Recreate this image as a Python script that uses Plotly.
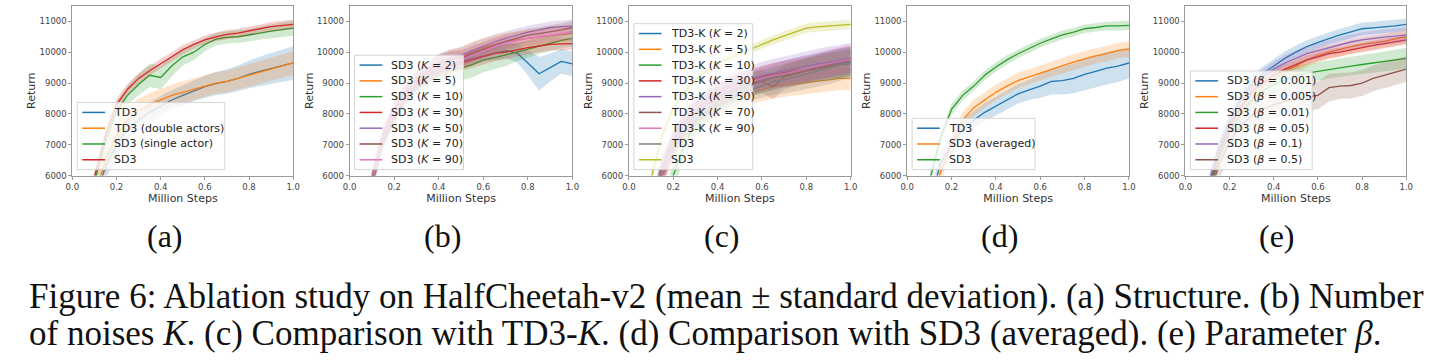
import plotly.graph_objects as go

# ---------------- data ----------------
steps = [0.05, 0.10, 0.15, 0.20, 0.25, 0.30, 0.35, 0.40, 0.45, 0.50,
         0.55, 0.60, 0.65, 0.70, 0.75, 0.80, 0.85, 0.90, 0.95, 1.00]

# (a) structure
a_names = ["TD3", "TD3 (double actors)", "SD3 (single actor)", "SD3"]
a_td3 = [2600, 5100, 6300, 7000, 7500, 7800, 8050, 8250, 8450, 8600, 8750, 8880, 8980, 9050, 9150, 9280, 9380, 9470, 9560, 9650]
a_td3_sd = [300, 350, 400, 400, 380, 350, 330, 320, 320, 330, 340, 360, 380, 400, 420, 450, 480, 500, 520, 540]
a_td3d = [2800, 5300, 6500, 7300, 7800, 8100, 8300, 8450, 8600, 8700, 8800, 8900, 9000, 9050, 9150, 9250, 9350, 9450, 9550, 9650]
a_td3d_sd = [300, 380, 420, 420, 400, 380, 370, 360, 350, 350, 350, 350, 350, 360, 360, 370, 370, 380, 380, 380]
a_sd3s = [3000, 5800, 7100, 8100, 8600, 8950, 9250, 9180, 9550, 9850, 10000, 10250, 10420, 10480, 10500, 10550, 10620, 10680, 10720, 10780]
a_sd3s_sd = [250, 300, 300, 280, 300, 350, 380, 380, 330, 280, 250, 220, 200, 200, 200, 200, 210, 220, 230, 250]
a_sd3 = [3100, 5950, 7300, 8300, 8800, 9150, 9400, 9620, 9850, 10080, 10250, 10400, 10500, 10580, 10620, 10680, 10760, 10830, 10860, 10900]
a_sd3_sd = [200, 220, 220, 200, 180, 170, 160, 150, 150, 150, 140, 140, 140, 140, 140, 140, 140, 150, 150, 150]

# (b) number of noises K
b_names = ["SD3 (<i>K</i> = 2)", "SD3 (<i>K</i> = 5)", "SD3 (<i>K</i> = 10)", "SD3 (<i>K</i> = 30)",
           "SD3 (<i>K</i> = 50)", "SD3 (<i>K</i> = 70)", "SD3 (<i>K</i> = 90)"]
b_k2 = [3000, 5800, 7200, 8000, 8600, 9000, 9250, 9450, 9600, 9700, 9800, 9900, 9980, 10050, 9980, 9650, 9300, 9500, 9700, 9620]
b_k2_sd = [250, 300, 280, 260, 250, 240, 230, 220, 220, 220, 220, 220, 230, 250, 300, 400, 550, 450, 400, 400]
b_k5 = [3000, 5850, 7250, 8050, 8650, 9100, 9350, 9550, 9700, 9820, 10000, 10150, 10250, 10350, 10400, 10450, 10500, 10550, 10580, 10600]
b_k5_sd = [250, 300, 300, 300, 300, 320, 350, 380, 380, 350, 330, 320, 300, 280, 270, 260, 250, 250, 250, 250]
b_k10 = [2900, 5700, 7100, 7900, 8500, 8900, 9150, 9350, 9450, 9480, 9600, 9750, 9820, 9900, 10000, 10100, 10200, 10300, 10380, 10450]
b_k10_sd = [250, 300, 300, 300, 300, 300, 320, 350, 380, 400, 420, 400, 380, 350, 300, 280, 260, 250, 250, 250]
b_k30 = [3000, 5800, 7200, 8000, 8600, 9000, 9250, 9450, 9550, 9650, 9750, 9850, 9950, 10000, 10080, 10150, 10200, 10250, 10270, 10280]
b_k30_sd = [200, 250, 250, 250, 250, 250, 250, 250, 250, 250, 250, 250, 240, 230, 220, 210, 200, 200, 200, 200]
b_k50 = [3100, 5900, 7300, 8100, 8700, 9100, 9400, 9650, 9800, 9900, 10050, 10200, 10330, 10450, 10550, 10650, 10720, 10800, 10830, 10850]
b_k50_sd = [250, 300, 300, 300, 300, 300, 300, 300, 280, 270, 260, 250, 240, 230, 220, 210, 200, 200, 200, 200]
b_k70 = [3000, 5850, 7250, 8050, 8650, 9050, 9350, 9600, 9750, 9800, 9950, 10100, 10230, 10350, 10450, 10550, 10600, 10650, 10720, 10800]
b_k70_sd = [250, 300, 300, 300, 300, 300, 300, 300, 280, 270, 260, 250, 240, 230, 220, 210, 210, 220, 220, 220]
b_k90 = [3000, 5800, 7200, 8000, 8600, 9050, 9300, 9550, 9700, 9750, 9900, 10050, 10180, 10300, 10380, 10450, 10500, 10550, 10600, 10650]
b_k90_sd = [250, 300, 300, 300, 300, 300, 300, 300, 280, 270, 260, 250, 240, 230, 220, 220, 220, 220, 220, 220]

# (c) comparison with TD3-K
c_names = ["TD3-K (<i>K</i> = 2)", "TD3-K (<i>K</i> = 5)", "TD3-K (<i>K</i> = 10)", "TD3-K (<i>K</i> = 30)",
           "TD3-K (<i>K</i> = 50)", "TD3-K (<i>K</i> = 70)", "TD3-K (<i>K</i> = 90)", "TD3", "SD3"]
c_k2 = [2200, 4800, 6100, 7000, 7600, 8000, 8300, 8500, 8700, 8850, 8950, 9100, 9200, 9300, 9380, 9450, 9520, 9580, 9650, 9700]
c_k2_sd = [300, 350, 380, 400, 400, 400, 400, 400, 400, 400, 400, 400, 420, 430, 440, 450, 460, 470, 480, 480]
c_k5 = [2100, 4700, 6000, 6900, 7400, 7800, 8050, 8250, 8450, 8600, 8700, 8800, 8880, 8930, 8980, 9020, 9060, 9100, 9150, 9150]
c_k5_sd = [300, 350, 380, 380, 380, 380, 380, 380, 380, 380, 380, 380, 380, 380, 380, 380, 380, 380, 380, 380]
c_k10 = [1500, 3500, 4800, 6000, 7000, 7700, 8100, 8400, 8650, 8800, 8950, 9050, 9150, 9250, 9320, 9400, 9450, 9520, 9580, 9620]
c_k10_sd = [300, 350, 400, 420, 420, 400, 380, 370, 360, 360, 360, 370, 380, 390, 400, 410, 420, 430, 440, 450]
c_k30 = [2300, 4900, 6200, 7100, 7700, 8100, 8400, 8650, 8850, 9000, 9080, 9200, 9280, 9350, 9400, 9450, 9520, 9600, 9700, 9760]
c_k30_sd = [300, 350, 380, 380, 380, 370, 360, 350, 350, 350, 350, 360, 370, 380, 390, 400, 410, 420, 430, 440]
c_k50 = [2300, 4900, 6200, 7100, 7700, 8150, 8450, 8700, 8900, 9050, 9150, 9250, 9330, 9400, 9480, 9550, 9620, 9680, 9750, 9800]
c_k50_sd = [300, 350, 400, 420, 420, 420, 420, 420, 420, 420, 430, 440, 450, 460, 470, 480, 490, 500, 500, 500]
c_k70 = [2200, 4800, 6100, 7000, 7600, 8000, 8300, 8550, 8750, 8900, 9000, 9050, 8880, 9200, 9300, 9400, 9500, 9550, 9600, 9680]
c_k70_sd = [300, 350, 380, 380, 380, 380, 380, 380, 380, 380, 380, 380, 400, 400, 400, 400, 410, 420, 430, 440]
c_k90 = [2200, 4800, 6100, 7000, 7650, 8050, 8350, 8600, 8800, 8950, 9050, 9150, 9230, 9300, 9380, 9450, 9530, 9600, 9700, 9780]
c_k90_sd = [300, 350, 380, 400, 400, 400, 400, 400, 400, 400, 400, 410, 420, 430, 440, 450, 460, 470, 480, 480]
c_td3 = [2500, 5000, 6300, 7000, 7500, 7800, 8050, 8250, 8450, 8650, 8780, 8900, 9050, 9100, 9200, 9300, 9400, 9480, 9580, 9680]
c_td3_sd = [300, 350, 350, 330, 300, 300, 300, 300, 300, 310, 330, 380, 420, 450, 480, 500, 520, 530, 520, 500]
c_sd3 = [3100, 5900, 7300, 8200, 8700, 9100, 9400, 9600, 9800, 9950, 10100, 10270, 10400, 10530, 10650, 10780, 10820, 10840, 10870, 10900]
c_sd3_sd = [200, 220, 200, 180, 170, 160, 150, 150, 150, 150, 150, 150, 150, 150, 150, 150, 150, 150, 150, 150]

# (d) comparison with SD3 (averaged)
d_names = ["TD3", "SD3 (averaged)", "SD3"]
d_td3 = [2500, 5000, 6400, 7000, 7500, 7800, 8050, 8250, 8450, 8650, 8780, 8900, 9050, 9080, 9150, 9280, 9380, 9480, 9550, 9650]
d_td3_sd = [300, 350, 350, 330, 300, 300, 300, 300, 300, 310, 330, 380, 420, 450, 480, 500, 520, 530, 520, 500]
d_avg = [2400, 4800, 6100, 7000, 7800, 8200, 8450, 8700, 8900, 9080, 9200, 9320, 9450, 9560, 9680, 9780, 9880, 9950, 10050, 10100]
d_avg_sd = [250, 300, 300, 280, 270, 260, 250, 250, 250, 250, 250, 250, 250, 250, 250, 250, 250, 250, 250, 250]
d_sd3 = [3000, 5800, 7200, 8150, 8600, 8900, 9250, 9520, 9750, 9950, 10120, 10290, 10430, 10560, 10650, 10760, 10800, 10850, 10850, 10870]
d_sd3_sd = [200, 200, 180, 170, 160, 150, 150, 150, 150, 140, 140, 140, 140, 140, 140, 140, 140, 140, 150, 150]

# (e) parameter beta
e_names = ["SD3 (<i>β</i> = 0.001)", "SD3 (<i>β</i> = 0.005)", "SD3 (<i>β</i> = 0.01)",
           "SD3 (<i>β</i> = 0.05)", "SD3 (<i>β</i> = 0.1)", "SD3 (<i>β</i> = 0.5)"]
e_b0001 = [2800, 5600, 6900, 7800, 8500, 9000, 9300, 9550, 9800, 10000, 10180, 10320, 10450, 10560, 10660, 10760, 10790, 10810, 10850, 10900]
e_b0001_sd = [200, 250, 250, 250, 250, 240, 230, 220, 220, 220, 210, 200, 200, 200, 200, 200, 200, 200, 200, 200]
e_b0005 = [2700, 5400, 6700, 7600, 8200, 8700, 9000, 9250, 9400, 9550, 9750, 9900, 10000, 10100, 10180, 10250, 10300, 10350, 10430, 10500]
e_b0005_sd = [200, 250, 250, 250, 250, 250, 240, 230, 230, 230, 220, 220, 220, 220, 220, 220, 220, 220, 220, 220]
e_b001 = [2600, 5300, 6500, 7400, 8000, 8450, 8750, 8950, 9100, 9250, 9320, 9380, 9450, 9500, 9550, 9600, 9650, 9700, 9750, 9800]
e_b001_sd = [250, 300, 300, 300, 300, 300, 300, 300, 300, 300, 300, 300, 300, 300, 300, 300, 300, 320, 330, 340]
e_b005 = [2700, 5400, 6700, 7600, 8200, 8700, 9000, 9250, 9450, 9600, 9750, 9850, 9950, 10000, 10080, 10150, 10220, 10280, 10340, 10400]
e_b005_sd = [200, 200, 200, 180, 170, 160, 150, 150, 150, 150, 150, 150, 150, 150, 150, 150, 150, 150, 150, 150]
e_b01 = [2750, 5500, 6800, 7700, 8400, 8900, 9200, 9450, 9650, 9800, 9950, 10050, 10150, 10250, 10330, 10400, 10450, 10490, 10520, 10560]
e_b01_sd = [250, 250, 250, 250, 250, 250, 250, 250, 250, 250, 250, 250, 250, 250, 250, 250, 250, 250, 250, 250]
e_b05 = [2500, 5200, 6300, 7100, 7600, 7950, 8150, 8300, 8400, 8500, 8550, 8600, 8850, 8900, 8920, 9000, 9150, 9250, 9350, 9450]
e_b05_sd = [300, 400, 450, 450, 450, 450, 450, 450, 450, 450, 450, 450, 450, 420, 420, 420, 420, 420, 420, 420]

x_ticks = [0.0, 0.2, 0.4, 0.6, 0.8, 1.0]
x_tick_text = ["0.0", "0.2", "0.4", "0.6", "0.8", "1.0"]
y_ticks = [6000, 7000, 8000, 9000, 10000, 11000]
y_tick_text = ["6000", "7000", "8000", "9000", "10000", "11000"]
panel_labels = ["(a)", "(b)", "(c)", "(d)", "(e)"]
caption_line1 = "Figure 6: Ablation study on HalfCheetah-v2 (mean ± standard deviation). (a) Structure. (b) Number"
caption_line2 = ("of noises <i>K</i>. (c) Comparison with TD3-<i>K</i>. (d) Comparison with SD3 (averaged). "
                 "(e) Parameter <i>β</i>.")

panels = [
    (a_names, [a_td3, a_td3d, a_sd3s, a_sd3], [a_td3_sd, a_td3d_sd, a_sd3s_sd, a_sd3_sd]),
    (b_names, [b_k2, b_k5, b_k10, b_k30, b_k50, b_k70, b_k90],
     [b_k2_sd, b_k5_sd, b_k10_sd, b_k30_sd, b_k50_sd, b_k70_sd, b_k90_sd]),
    (c_names, [c_k2, c_k5, c_k10, c_k30, c_k50, c_k70, c_k90, c_td3, c_sd3],
     [c_k2_sd, c_k5_sd, c_k10_sd, c_k30_sd, c_k50_sd, c_k70_sd, c_k90_sd, c_td3_sd, c_sd3_sd]),
    (d_names, [d_td3, d_avg, d_sd3], [d_td3_sd, d_avg_sd, d_sd3_sd]),
    (e_names, [e_b0001, e_b0005, e_b001, e_b005, e_b01, e_b05],
     [e_b0001_sd, e_b0005_sd, e_b001_sd, e_b005_sd, e_b01_sd, e_b05_sd]),
]

# ---------------- style ----------------
W, H = 1440, 362
colors = ["#1f77b4", "#ff7f0e", "#2ca02c", "#d62728", "#9467bd",
          "#8c564b", "#e377c2", "#7f7f7f", "#bcbd22"]
panel_px = [(66, 289), (346, 571), (628, 852), (909, 1133), (1190, 1413)]
top_px, bot_px = 6, 178
label_x_px = [160, 440, 722, 1002, 1282]
legend_w_px = [149, 110, 120, 124, 123]
SANS = "DejaVu Sans"
SERIF = "Liberation Serif, Times New Roman, serif"
frame = "#9a9a9a"


def rgba(hex_c, a):
    h = hex_c.lstrip("#")
    return "rgba(%d,%d,%d,%.2f)" % (int(h[0:2], 16), int(h[2:4], 16), int(h[4:6], 16), a)


def px_x(p):
    return p / W


def px_y(p):
    return 1 - p / H


fig = go.Figure()
layout = dict(
    width=W, height=H, margin=dict(l=0, r=0, t=0, b=0),
    paper_bgcolor="white", plot_bgcolor="white", showlegend=False,
    font=dict(family=SANS, color="#333"),
)
shapes, annotations = [], []

for i, (names, means, sds) in enumerate(panels):
    k = "" if i == 0 else str(i + 1)
    xa, ya = "x" + k, "y" + k
    x0, x1 = panel_px[i]
    for j, (nm, m, s) in enumerate(zip(names, means, sds)):
        col = colors[j]
        upper = [v + d for v, d in zip(m, s)]
        lower = [v - d for v, d in zip(m, s)]
        fig.add_trace(go.Scatter(
            x=steps + steps[::-1], y=upper + lower[::-1], fill="toself",
            fillcolor=rgba(col, 0.22), line=dict(width=0), mode="lines",
            hoverinfo="skip", xaxis=xa, yaxis=ya))
        fig.add_trace(go.Scatter(
            x=steps, y=m, mode="lines", name=nm, line=dict(color=col, width=1.3),
            xaxis=xa, yaxis=ya))

    layout["xaxis" + k] = dict(
        domain=[px_x(x0), px_x(x1)], anchor=ya, range=[0, 1],
        tickvals=x_ticks, ticktext=x_tick_text, ticks="outside", ticklen=3,
        tickcolor=frame, showline=True, linecolor=frame, linewidth=1, mirror=True,
        showgrid=False, zeroline=False, tickfont=dict(size=8.5, color="#444", family=SANS),
        title=dict(text="Million Steps", font=dict(size=11, color="#333", family=SANS), standoff=2),
    )
    layout["yaxis" + k] = dict(
        domain=[px_y(bot_px), px_y(top_px)], anchor=xa, range=[6000, 11500],
        tickvals=y_ticks, ticktext=y_tick_text, ticks="outside", ticklen=3,
        tickcolor=frame, showline=True, linecolor=frame, linewidth=1, mirror=True,
        showgrid=False, zeroline=False, tickfont=dict(size=8.5, color="#444", family=SANS),
        title=dict(text="Return", font=dict(size=11, color="#333", family=SANS), standoff=1),
    )

    # legend box drawn in the lower-left corner (matplotlib style, 16 px rows)
    n = len(names)
    bx0 = x0 + 5
    bx1 = bx0 + legend_w_px[i]
    by1 = bot_px - 6
    by0 = by1 - ((n - 1) * 16 + 20)
    shapes.append(dict(type="rect", xref="paper", yref="paper",
                       x0=px_x(bx0), x1=px_x(bx1), y0=px_y(by1), y1=px_y(by0),
                       fillcolor="rgba(255,255,255,0.8)", line=dict(color="#d4d4d4", width=1),
                       layer="above"))
    for j, nm in enumerate(names):
        cy = by0 + 10 + 16 * j
        shapes.append(dict(type="line", xref="paper", yref="paper",
                           x0=px_x(bx0 + 5), x1=px_x(bx0 + 28), y0=px_y(cy), y1=px_y(cy),
                           line=dict(color=colors[j], width=1.5), layer="above"))
        annotations.append(dict(xref="paper", yref="paper", x=px_x(bx0 + 35), y=px_y(cy),
                                xanchor="left", yanchor="middle", text=nm, showarrow=False,
                                font=dict(size=11, color="#222", family=SANS)))

    annotations.append(dict(xref="paper", yref="paper", x=px_x(label_x_px[i]), y=px_y(239),
                            xanchor="center", yanchor="middle", text=panel_labels[i],
                            showarrow=False, font=dict(size=32, color="#111", family=SERIF)))

annotations.append(dict(xref="paper", yref="paper", x=px_x(20), y=px_y(301),
                        xanchor="left", yanchor="middle", text=caption_line1, showarrow=False,
                        font=dict(size=35, color="#111", family=SERIF)))
annotations.append(dict(xref="paper", yref="paper", x=px_x(20), y=px_y(338),
                        xanchor="left", yanchor="middle", text=caption_line2, showarrow=False,
                        font=dict(size=35, color="#111", family=SERIF)))

layout["shapes"] = shapes
layout["annotations"] = annotations
fig.update_layout(**layout)

fig.write_html("out.html", config={"displayModeBar": False},
               post_script="document.body.style.margin='0';document.body.style.overflow='hidden';")
